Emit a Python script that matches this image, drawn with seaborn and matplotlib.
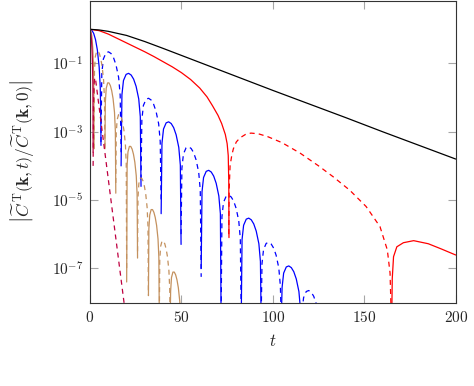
import numpy as np
import pandas as pd
import matplotlib
matplotlib.use("Agg")
import matplotlib.pyplot as plt
from matplotlib.ticker import NullLocator
import seaborn as sns

nan = np.nan

# values are stored as log10 of the normalised correlation, NaN splits lobes
black_t = [0, 5, 10, 20, 30, 40, 60, 80, 100, 120, 140, 160, 180, 200]
black_log = [0, -0.02, -0.06, -0.18, -0.36, -0.56, -0.97, -1.38, -1.79, -2.19, -2.59, -3.0, -3.4, -3.8]

red_solid_t = [0, 5, 10, 15, 20, 25, 30, 35, 40, 45, 50, 55, 60, 64, 67, 70, 72, 74, 75, 75.6, 75.9, 76.0,
               nan, 165.0, 165.3, 166.0, 167.8, 171.4, 177, 185, 192, 200]
red_solid_log = [0, -0.04, -0.14, -0.27, -0.40, -0.53, -0.66, -0.80, -0.95, -1.10, -1.27, -1.47, -1.72, -1.98,
                 -2.24, -2.52, -2.76, -3.08, -3.35, -3.7, -4.5, -6.1,
                 nan, -8.5, -7.3, -6.66, -6.37, -6.25, -6.19, -6.28, -6.43, -6.61]

red_dashed_t = [75.9, 76.1, 76.6, 77.5, 78.4, 80, 82, 85, 88, 92, 97, 105, 115, 125, 133, 142, 151,
                158.6, 162.6, 164.1, 164.8]
red_dashed_log = [-6.0, -4.7, -4.0, -3.7, -3.5, -3.3, -3.18, -3.08, -3.04, -3.06, -3.14, -3.32, -3.63, -4.0,
                  -4.32, -4.71, -5.19, -5.78, -6.46, -7.14, -8.5]

blue_solid_t = [0, 1, 2, 3, 4, 5, 5.6, 5.9, 6.0, nan,
                17.0, 17.45, 18.3, 19.75, 21.1, 22.5, 23.85, 25.2, 26.65, 27.5, 27.9, nan,
                38.9, 39.35, 40.2, 41.65, 43.0, 44.4, 45.75, 47.1, 48.55, 49.4, 49.8, nan,
                60.8, 61.25, 62.1, 63.55, 64.9, 66.3, 67.65, 69.0, 70.45, 71.3, 71.7, nan,
                82.7, 83.15, 84.0, 85.45, 86.8, 88.2, 89.55, 90.9, 92.35, 93.2, 93.6, nan,
                104.6, 105.05, 105.9, 107.35, 108.7, 110.1, 111.45, 112.8, 114.25, 115.1, 115.5]
blue_solid_log = [0, -0.03, -0.12, -0.3, -0.6, -1.1, -1.7, -2.6, -3.4, nan,
                  -4.0, -1.92, -1.50, -1.32, -1.29, -1.34, -1.46, -1.67, -2.04, -2.56, -4.6, nan,
                  -5.4, -3.34, -2.92, -2.74, -2.71, -2.76, -2.88, -3.09, -3.46, -3.98, -6.3, nan,
                  -7.0, -4.76, -4.34, -4.16, -4.13, -4.18, -4.30, -4.51, -4.88, -5.40, -8.5, nan,
                  -8.5, -6.16, -5.74, -5.56, -5.53, -5.58, -5.70, -5.91, -6.28, -6.80, -8.5, nan,
                  -8.5, -7.56, -7.14, -6.96, -6.93, -6.98, -7.10, -7.31, -7.68, -8.20, -8.5]

blue_dashed_t = [6.0, 6.45, 7.3, 8.75, 10.1, 11.5, 12.85, 14.2, 15.65, 16.5, 17.0, nan,
                 27.9, 28.35, 29.2, 30.65, 32.0, 33.4, 34.75, 36.1, 37.55, 38.4, 38.9, nan,
                 49.8, 50.25, 51.1, 52.55, 53.9, 55.3, 56.65, 58.0, 59.45, 60.3, 60.8, nan,
                 71.7, 72.15, 73.0, 74.45, 75.8, 77.2, 78.55, 79.9, 81.35, 82.2, 82.7, nan,
                 93.6, 94.05, 94.9, 96.35, 97.7, 99.1, 100.45, 101.8, 103.25, 104.1, 104.6, nan,
                 115.5, 115.95, 116.8, 118.25, 119.6, 121.0, 122.35, 123.7, 125.15, 126.0, 126.5]
blue_dashed_log = [-3.3, -1.29, -0.87, -0.69, -0.66, -0.71, -0.83, -1.04, -1.41, -1.93, -3.6, nan,
                   -4.4, -2.65, -2.23, -2.05, -2.02, -2.07, -2.19, -2.40, -2.77, -3.29, -5.1, nan,
                   -6.0, -4.07, -3.65, -3.47, -3.44, -3.49, -3.61, -3.82, -4.19, -4.71, -7.25, nan,
                   -8.5, -5.49, -5.07, -4.89, -4.86, -4.91, -5.03, -5.24, -5.61, -6.13, -8.5, nan,
                   -8.5, -6.87, -6.45, -6.27, -6.24, -6.29, -6.41, -6.62, -6.99, -7.51, -8.5, nan,
                   -8.5, -8.28, -7.86, -7.68, -7.65, -7.70, -7.82, -8.03, -8.40, -8.92, -9.0]

tan_solid_t = [0, 0.5, 1.0, 1.5, 1.8, 2.0, 2.15, 2.2, nan,
               8.15, 8.39, 8.86, 9.64, 10.38, 11.13, 11.87, 12.61, 13.39, 13.86, 14.1, nan,
               20.05, 20.29, 20.76, 21.54, 22.28, 23.03, 23.77, 24.51, 25.29, 25.76, 26.0, nan,
               31.95, 32.19, 32.66, 33.44, 34.18, 34.93, 35.67, 36.41, 37.19, 37.66, 37.9, nan,
               43.85, 44.09, 44.56, 45.34, 46.08, 46.83, 47.57, 48.31, 49.09, 49.56, 49.8]
tan_solid_log = [0, -0.05, -0.2, -0.55, -0.95, -1.5, -2.4, -3.5, nan,
                 -3.5, -2.13, -1.73, -1.57, -1.57, -1.65, -1.80, -2.03, -2.43, -2.98, -4.8, nan,
                 -7.4, -3.99, -3.59, -3.43, -3.43, -3.51, -3.66, -3.89, -4.29, -4.84, -6.7, nan,
                 -7.8, -5.84, -5.44, -5.28, -5.28, -5.36, -5.51, -5.74, -6.14, -6.69, -8.5, nan,
                 -8.5, -7.67, -7.27, -7.11, -7.11, -7.19, -7.34, -7.57, -7.97, -8.52, -9.0]

tan_dashed_t = [2.2, 2.44, 2.91, 3.69, 4.43, 5.18, 5.92, 6.66, 7.44, 7.91, 8.15, nan,
                14.1, 14.34, 14.81, 15.59, 16.33, 17.08, 17.82, 18.56, 19.34, 19.81, 20.05, nan,
                26.0, 26.24, 26.71, 27.49, 28.23, 28.98, 29.72, 30.46, 31.24, 31.71, 31.95, nan,
                37.9, 38.14, 38.61, 39.39, 40.13, 40.88, 41.62, 42.36, 43.14, 43.61, 43.85]
tan_dashed_log = [-3.5, -1.20, -0.80, -0.64, -0.64, -0.72, -0.87, -1.10, -1.50, -2.05, -3.5, nan,
                  -4.5, -3.06, -2.66, -2.50, -2.50, -2.58, -2.73, -2.96, -3.36, -3.91, -7.0, nan,
                  -6.5, -4.92, -4.52, -4.36, -4.36, -4.44, -4.59, -4.82, -5.22, -5.77, -7.8, nan,
                  -8.5, -6.76, -6.36, -6.20, -6.20, -6.28, -6.43, -6.66, -7.06, -7.61, -8.5]

crimson_solid_t = [0, 0.4, 0.8, 1.1, 1.35, 1.55, 1.65, 1.7]
crimson_solid_log = [0, -0.1, -0.3, -0.6, -1.0, -1.6, -2.5, -3.6]

crimson_dashed_t = [1.7, 1.9, 2.2, 2.6, 3.0, 5, 8, 11, 14, 17, 20]
crimson_dashed_log = [-4.0, -2.2, -1.6, -1.42, -1.45, -2.29, -3.55, -4.81, -6.07, -7.33, -8.59]

COLORS = {
    'black': '#000000',
    'red': '#FF0000',
    'blue': '#0000FF',
    'tan': '#C4915E',
    'crimson': '#BF0040',
}


def to_records(series, style, ts, logs, start_unit):
    rows = []
    unit = start_unit
    for t, v in zip(ts, logs):
        if np.isnan(t):
            unit += 1
            continue
        rows.append({'t': t, 'value': 10.0 ** v, 'series': series, 'style': style, 'unit': unit})
    return rows, unit + 1


def build_frame():
    parts = [
        ('blue', 'solid', blue_solid_t, blue_solid_log),
        ('blue', 'dashed', blue_dashed_t, blue_dashed_log),
        ('tan', 'solid', tan_solid_t, tan_solid_log),
        ('tan', 'dashed', tan_dashed_t, tan_dashed_log),
        ('crimson', 'solid', crimson_solid_t, crimson_solid_log),
        ('crimson', 'dashed', crimson_dashed_t, crimson_dashed_log),
        ('red', 'solid', red_solid_t, red_solid_log),
        ('red', 'dashed', red_dashed_t, red_dashed_log),
        ('black', 'solid', black_t, black_log),
    ]
    rows = []
    unit = 0
    for series, style, ts, logs in parts:
        r, unit = to_records(series, style, ts, logs, unit)
        rows += r
    return pd.DataFrame(rows)


def plot_chart(df):
    sns.set_theme(style="ticks")
    plt.rcParams['font.family'] = ['cmr10']
    plt.rcParams['mathtext.fontset'] = 'cm'
    plt.rcParams['axes.formatter.use_mathtext'] = True
    plt.rcParams['font.size'] = 11
    plt.rcParams['axes.unicode_minus'] = False

    fig = plt.figure(figsize=(4.74, 3.86), dpi=100)
    ax = fig.add_axes([0.1899, 0.2142, 0.7715, 0.7845])

    sns.lineplot(
        data=df, x='t', y='value', hue='series', style='style', units='unit',
        estimator=None, sort=False, palette=COLORS,
        dashes={'solid': '', 'dashed': (4, 3.3)}, linewidth=0.9,
        legend=False, ax=ax
    )

    ax.set_yscale('log')
    ax.set_xlim(0, 200)
    ax.set_ylim(10 ** -8.025, 10 ** 0.843)
    ax.set_xticks([0, 50, 100, 150, 200])
    ax.set_yticks([1e-7, 1e-5, 1e-3, 1e-1])
    ax.yaxis.set_minor_locator(NullLocator())
    ax.xaxis.set_minor_locator(NullLocator())
    ax.tick_params(direction='in', top=True, right=True, length=5.5, width=0.8,
                   color='0.65', labelsize=11, pad=5)
    for sp in ax.spines.values():
        sp.set_color('#333333')
        sp.set_linewidth(0.8)

    ax.set_xlabel(r'$t$', fontsize=12)
    ax.set_ylabel(r'$\left|\widetilde{C}^{\,\mathrm{T}}\left(\mathbf{k},t\right)/'
                  r'\widetilde{C}^{\,\mathrm{T}}\left(\mathbf{k},0\right)\right|$',
                  fontsize=12.5)
    ax.xaxis.set_label_coords(0.5, -0.098)
    ax.yaxis.set_label_coords(-0.148, 0.5)

    fig.savefig('out.png', dpi=100)


if __name__ == "__main__":
    df = build_frame()
    plot_chart(df)
